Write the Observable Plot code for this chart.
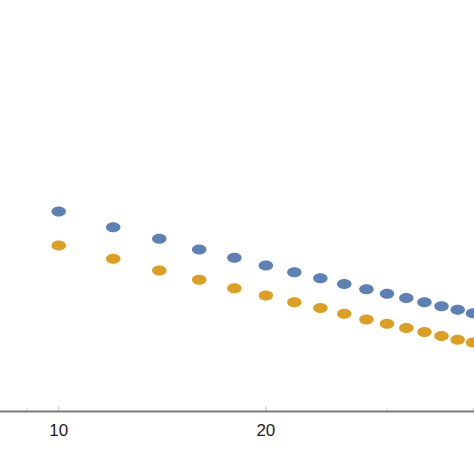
<!DOCTYPE html>
<html>
<head>
<meta charset="utf-8">
<script src="https://cdn.jsdelivr.net/npm/d3@7"></script>
<script src="https://cdn.jsdelivr.net/npm/@observablehq/plot@0.6"></script>
<style>
  html, body { margin: 0; padding: 0; background: #fff; overflow: hidden; }
</style>
</head>
<body>
<div id="chart"></div>
<script>
const xValues = [10, 12, 14, 16, 18, 20, 22, 24, 26, 28, 30, 32, 34, 36, 38, 40];
const seriesNames = ["Series 1", "Series 2"];
const series1 = [2.00, 1.843, 1.727, 1.62, 1.537, 1.46, 1.393, 1.333, 1.275, 1.223, 1.177, 1.135, 1.093, 1.053, 1.017, 0.983];
const series2 = [1.66, 1.527, 1.41, 1.317, 1.233, 1.16, 1.093, 1.035, 0.977, 0.92, 0.877, 0.835, 0.795, 0.755, 0.717, 0.69];
const seriesColors = ["#5E81B5", "#DC9F22"];
const majorTicks = [10, 20];
const minorTicks = [9, 30, 40];

const rows = [];
[series1, series2].forEach((vals, s) => {
  vals.forEach((v, i) => rows.push({x: xValues[i], y: v, series: seriesNames[s]}));
});

const ellipse = {
  draw(ctx, size) {
    const r = Math.sqrt(size / Math.PI);
    const rx = r * 1.45, ry = r;
    const n = 40;
    for (let i = 0; i < n; i++) {
      const a = 2 * Math.PI * i / n;
      const px = rx * Math.cos(a), py = ry * Math.sin(a);
      if (i === 0) ctx.moveTo(px, py); else ctx.lineTo(px, py);
    }
    ctx.closePath();
  }
};

const chart = Plot.plot({
  width: 474,
  height: 474,
  marginLeft: 0,
  marginRight: 0,
  marginTop: 0,
  marginBottom: 63,
  style: {background: "#fff", fontFamily: "Liberation Sans, Arial, sans-serif"},
  x: {type: "log", domain: [8.23, 40.2], axis: null},
  y: {domain: [0, 4.11], axis: null},
  color: {domain: seriesNames, range: seriesColors},
  marks: [
    Plot.ruleX(minorTicks, {y1: 0, y2: 0.03, stroke: "#cfcfcf", strokeWidth: 1}),
    Plot.ruleX(majorTicks, {y1: 0, y2: 0.045, stroke: "#c4c4c4", strokeWidth: 1}),
    Plot.ruleY([0], {stroke: "#7a7a7a", strokeWidth: 1.8}),
    Plot.text(majorTicks, {x: d => d, y: 0, dy: 19, text: d => String(d), fontSize: 17, fill: "#222", ariaLabel: "tick-labels"}),
    Plot.dot(rows, {x: "x", y: "y", fill: "series", stroke: "none", r: 5, symbol: ellipse})
  ]
});

document.getElementById("chart").appendChild(chart);

chart.querySelectorAll('g[aria-label="tick-labels"] text').forEach(t => {
  const tr = t.getAttribute("transform");
  if (tr) {
    t.setAttribute("transform", tr + " scale(1.33,1)");
  } else {
    const x = t.getAttribute("x") || 0, y = t.getAttribute("y") || 0;
    t.removeAttribute("x"); t.removeAttribute("y");
    t.setAttribute("transform", `translate(${x},${y}) scale(1.33,1)`);
  }
});
</script>
</body>
</html>
